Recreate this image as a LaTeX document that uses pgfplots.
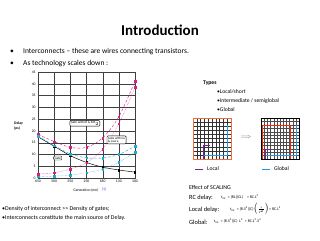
\documentclass[border=0pt]{standalone}
\usepackage{pgfplots}
\pgfplotsset{compat=1.18}
\usepackage{fontspec}
\setmainfont{Carlito}
\definecolor{mag}{RGB}{220,30,130}
\definecolor{cyn}{RGB}{30,170,210}
\definecolor{locp}{RGB}{130,30,150}
\definecolor{globb}{RGB}{40,150,230}
\definecolor{org}{RGB}{240,110,60}
\definecolor{refblue}{RGB}{40,80,200}
\begin{document}
\begin{tikzpicture}[x=0.0375cm,y=-0.0375cm]
\useasboundingbox[fill=white] (0,0) rectangle (320,240);
\coordinate (axpos) at (38,178);
% title and bullets
\node[font=\bfseries\fontsize{16}{18}\selectfont] at (160,30) {Introduction};
\node[font=\fontsize{8}{9}\selectfont] at (12,52) {•};
\node[font=\fontsize{8}{9}\selectfont] at (12,64) {•};
\node[anchor=west,inner sep=0pt,font=\fontsize{8}{9}\selectfont] at (23,52) {Interconnects – these are wires connecting transistors.};
\node[anchor=west,inner sep=0pt,font=\fontsize{8}{9}\selectfont] at (23,64) {As technology scales down :};
% chart
\begin{scope}[x=1cm,y=1cm]
\begin{axis}[at={(axpos)}, anchor=south west, scale only axis,
  width=3.6375cm, height=3.975cm,
  xmin=0, xmax=6, ymin=0, ymax=45,
  xtick={0,...,6}, xticklabels={650,500,350,250,180,130,100},
  ytick={0,5,...,45},
  grid=major, grid style={black!75, line width=0.3pt},
  axis line style={black!75, line width=0.3pt},
  tick style={draw=none},
  tick label style={font=\fontsize{4}{4}\selectfont},
  /pgf/number format/assume math mode=true,
  xticklabel style={yshift=1pt},
  yticklabel style={xshift=1pt},
  clip=false]
\addplot[black, line width=0.5pt, smooth, mark=square*, mark size=0.8pt] coordinates {(0,17.5)(1,13.5)(2,9.5)(3,6.6)(4,4.6)(5,3.4)(6,2.5)};
\addplot[mag, densely dashed, line width=0.45pt, smooth, mark=square*, mark size=0.8pt, mark options={solid}] coordinates {(0,18.5)(1,15.5)(2,13)(3,13)(4,17)(5,26)(6,41)};
\addplot[mag, densely dotted, line width=0.45pt, smooth, mark=square*, mark size=0.8pt, mark options={solid}] coordinates {(0,1.7)(1,2.2)(2,3.8)(3,6.5)(4,12.3)(5,23)(6,38.5)};
\addplot[cyn, densely dashed, line width=0.45pt, smooth, mark=square*, mark size=0.8pt, mark options={solid}] coordinates {(0,17.8)(1,13.8)(2,10.2)(3,8.6)(4,8.5)(5,10)(6,13.5)};
\addplot[cyn, densely dotted, line width=0.45pt, smooth, mark=square*, mark size=0.8pt, mark options={solid}] coordinates {(0,0.5)(1,0.8)(2,1.2)(3,2.3)(4,3.7)(5,6.7)(6,11)};
\node[draw, rounded corners=1pt, fill=white, inner sep=1pt, font=\fontsize{3.5}{4}\selectfont] at (axis cs:1.22,8.5) {Gate};
\node[draw, rounded corners=1pt, fill=white, inner sep=1pt, font=\fontsize{3.5}{4}\selectfont] at (axis cs:2.9,23.2) {Gate with Al \& SiO$_2$};
\node[draw, rounded corners=1pt, fill=white, inner sep=1pt, align=left, font=\fontsize{3.5}{4}\selectfont] at (axis cs:4.86,16.2) {Gate with Cu\\ \& Low κ};
\end{axis}
\end{scope}
\node[align=left, anchor=west, inner sep=0pt, font=\bfseries\fontsize{4}{4.5}\selectfont] at (14,126) {Delay\\(ps)};
\node[font=\fontsize{4}{4.5}\selectfont] at (86,190) {Generation (nm)};
\node[text=refblue, font=\fontsize{4}{4.5}\selectfont] at (104,189.5) {[1]};
% bottom text
\node[anchor=west,inner sep=0pt,font=\fontsize{6.3}{7}\selectfont] at (2,209) {•Density of interconnect >{}> Density of gates;};
\node[anchor=west,inner sep=0pt,font=\fontsize{6.3}{7}\selectfont] at (2,217.5) {•Interconnects constitute the main source of Delay.};
% right side
\node[anchor=west,inner sep=0pt,font=\bfseries\fontsize{6}{7}\selectfont] at (203,83) {Types};
\node[anchor=west,inner sep=0pt,font=\fontsize{6}{7}\selectfont] at (217,92) {•Local/short};
\node[anchor=west,inner sep=0pt,font=\fontsize{6}{7}\selectfont] at (217,101) {•Intermediate / semiglobal};
\node[anchor=west,inner sep=0pt,font=\fontsize{6}{7}\selectfont] at (217,110) {•Global};
% left grid
\foreach \i in {1,...,9} {
  \draw[black!80, line width=0.3pt] ({193+\i*3.8},118) -- ({193+\i*3.8},159);
  \draw[black!80, line width=0.3pt] (193,{118+\i*4.1}) -- (231,{118+\i*4.1});
}
\draw[org, line width=0.5pt] (193,118) rectangle (231,159);
\draw[globb, line width=0.8pt] (227,125) -- (227,155) -- (204,155);
\draw[locp, line width=0.8pt] (203,159) -- (203,145) -- (210,145);
% arrow
\node[font=\fontsize{6}{6}\selectfont, text=black!60] at (246,137) {$\Longrightarrow$};
% right grid
\foreach \i in {1,...,11} {
  \draw[black!70, line width=0.25pt] ({261+\i*38/12},118) -- ({261+\i*38/12},159);
  \draw[black!70, line width=0.25pt] (261,{118+\i*41/12}) -- (299,{118+\i*41/12});
}
\draw[black, line width=0.5pt] (261,118) rectangle (299,159);
\draw[red!70!orange, line width=0.35pt] (262,159) -- (262,125) -- (290,125) -- (290,159);
\draw[globb, line width=0.8pt] (296,125) -- (296,155) -- (266,155);
\draw[locp, line width=0.8pt] (265,159) -- (265,149) -- (270,149);
% legend
\draw[locp, line width=0.8pt] (195,169) -- (203,169);
\node[anchor=west,inner sep=0pt,font=\fontsize{6}{7}\selectfont] at (207,169) {Local};
\draw[globb, line width=0.8pt] (262,169) -- (270,169);
\node[anchor=west,inner sep=0pt,font=\fontsize{6}{7}\selectfont] at (274,169) {Global};
% scaling
\node[anchor=west,inner sep=0pt,font=\fontsize{6.3}{7}\selectfont] at (189,187) {Effect of SCALING};
\node[anchor=west,inner sep=0pt,font=\fontsize{6.8}{8}\selectfont] at (189,198) {RC delay:};
\node[anchor=west,inner sep=0pt,font=\fontsize{6.8}{8}\selectfont] at (189,210) {Local delay:};
\node[anchor=west,inner sep=0pt,font=\fontsize{6.8}{8}\selectfont] at (189,222) {Global:};
\node[anchor=west,inner sep=0pt,font=\fontsize{4.2}{5}\selectfont] at (221,197) {t\textsubscript{int}\enspace = (RL)(CL)\quad = RC.L\textsuperscript{2}};
\node[anchor=west,inner sep=0pt,font=\fontsize{4.2}{5}\selectfont] at (230,209) {t\textsubscript{int}\enspace = (R.S\textsuperscript{2})(C)$\left(\frac{\mathrm{L}}{\mathrm{S}^2}\right)$= RC.L\textsuperscript{2}};
\node[anchor=west,inner sep=0pt,font=\fontsize{4.2}{5}\selectfont] at (214,221) {t\textsubscript{int}\enspace = (R.S\textsuperscript{2})(C)\enspace L\textsuperscript{2}\enspace = RC.L\textsuperscript{2}.S\textsuperscript{2}};
\end{tikzpicture}
\end{document}
